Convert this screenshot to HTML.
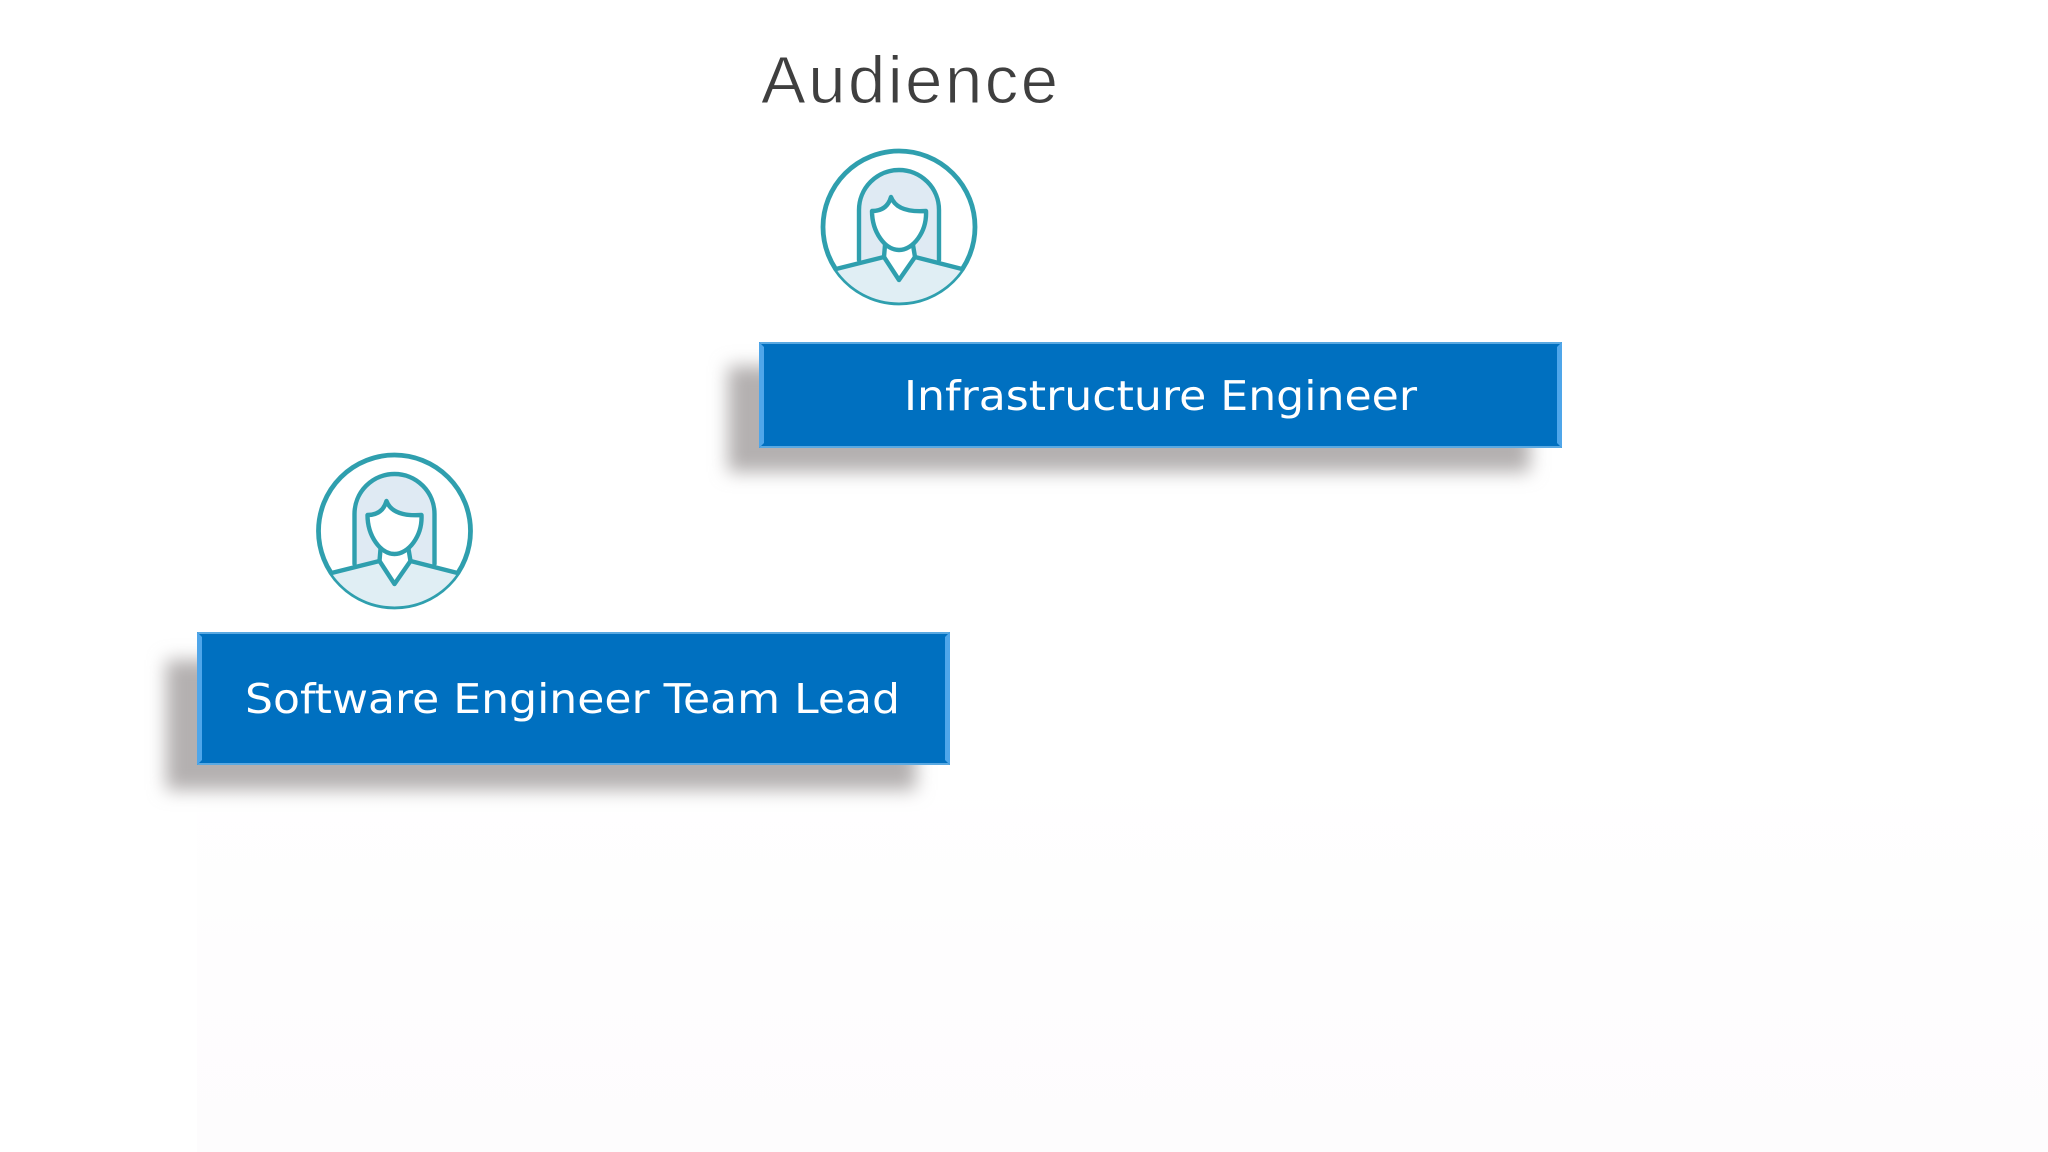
<!DOCTYPE html>
<html lang="en"><head><meta charset="utf-8"><title>Audience</title>
<style>html,body{margin:0;padding:0;background:#fff}svg{display:block}</style></head>
<body>
<svg xmlns="http://www.w3.org/2000/svg" width="2048" height="1152" viewBox="0 0 2048 1152">
<defs>
<filter id="b" x="-10%" y="-40%" width="120%" height="180%"><feGaussianBlur stdDeviation="9"/></filter>
<linearGradient id="bg" x1="0" y1="0" x2="0" y2="1"><stop offset="0" stop-color="#fff"/><stop offset="0.5" stop-color="#fefdfe"/><stop offset="1" stop-color="#fdfcfd"/></linearGradient>
<g id="p">
<circle cx="0" cy="0" r="76" fill="#fff" stroke="#2f9fae" stroke-width="4.8"/>
<path d="M-63 42 L-15 30 L0 53 L16 30 L63 42 A76 76 0 0 1 -63 42 Z" fill="#e0eef4"/>
<path d="M-40 34 V-17 A40 40 0 0 1 40 -17 V34 L16 30 L-15 30 Z" fill="#dfeaf3"/>
<path d="M-15 30 L0 53 L16 30 L14 17 Q0 28 -14 17 Z" fill="#fff"/>
<path d="M-27 -16 Q-12 -16 -8 -30 Q-2 -14 27 -16 C28 5 14 23 0 23 C-14 23 -27 5 -27 -16 Z" fill="#fff"/>
<g fill="none" stroke="#2f9fae" stroke-width="4.4" stroke-linejoin="round" stroke-linecap="round">
<path d="M-40 33 V-17 A40 40 0 0 1 40 -17 V33"/>
<path d="M-27 -16 Q-12 -16 -8 -30 Q-2 -14 27 -16 C28 5 14 23 0 23 C-14 23 -27 5 -27 -16 Z"/>
<path d="M-63 42 L-15 30 L0 53 L16 30 L63 42"/>
<path d="M-14 18 L-15 30 M14 18 L16 30"/>
</g>
</g>
</defs>
<rect width="2048" height="1152" fill="#fff"/>
<rect x="197" y="770" width="1851" height="382" fill="url(#bg)"/>

<text x="761" y="103" font-family="'Liberation Sans',sans-serif" font-size="67" fill="#3f3f3f" stroke="#fff" stroke-width="1" textLength="297" lengthAdjust="spacing">Audience</text>

<use href="#p" x="899" y="227"/>
<use href="#p" x="394.500" y="531"/>

<rect x="728" y="366" width="802" height="106" fill="#b4b0b0" filter="url(#b)"/>
<rect x="166" y="660" width="750" height="130" fill="#b4b0b0" filter="url(#b)"/>

<g>
<rect x="759" y="342" width="803" height="106" fill="#0070c0"/>
<path d="M759 342 L764 347 V443 L759 448 Z" fill="#4fa6ea"/>
<path d="M1562 342 L1557 347 V443 L1562 448 Z" fill="#4fa6ea"/>
<path d="M759 342 H1562 L1560 344 H761 Z" fill="#5aa9e2"/>
<path d="M759 448 H1562 L1560 446 H761 Z" fill="#5aa9e2"/>
<text x="904" y="410" font-family="'DejaVu Sans',sans-serif" font-size="41" fill="#fff" textLength="513" lengthAdjust="spacingAndGlyphs">Infrastructure Engineer</text>
</g>
<g>
<rect x="197" y="632" width="753" height="133" fill="#0070c0"/>
<path d="M197 632 L202 637 V760 L197 765 Z" fill="#4fa6ea"/>
<path d="M950 632 L945 637 V760 L950 765 Z" fill="#4fa6ea"/>
<path d="M197 632 H950 L948 634 H199 Z" fill="#5aa9e2"/>
<path d="M197 765 H950 L948 763 H199 Z" fill="#5aa9e2"/>
<text x="245" y="713" font-family="'DejaVu Sans',sans-serif" font-size="41" fill="#fff" textLength="655" lengthAdjust="spacingAndGlyphs">Software Engineer Team Lead</text>
</g>
</svg>
</body></html>
